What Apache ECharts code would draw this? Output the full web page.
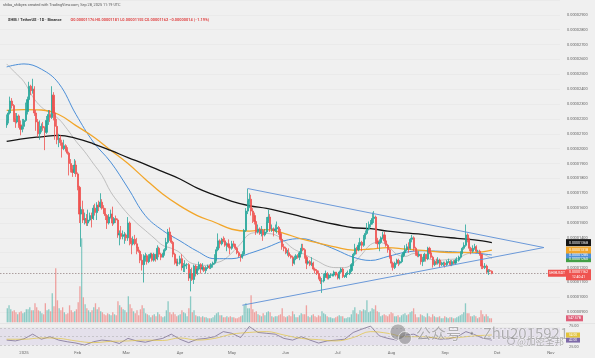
<!DOCTYPE html>
<html><head><meta charset="utf-8">
<script src="https://cdn.jsdelivr.net/npm/echarts@6/dist/echarts.min.js"></script>
<style>html,body{margin:0;padding:0;background:#f0f0f0;}#c{width:595px;height:358px;}</style>
</head><body><div id="c"></div>
<script>
// ---- DATA (prices in millionths of USDT, i.e. 21.9 = 0.00002190) ----
const startDate = '2024-12-22';
const firstOpen = 21.6;
const closes = [
21.9,22.4,23.2,22.9,22.0,21.8,22.2,21.6,21.3,21.5,
21.9,22.5,23.3,24.2,23.9,24.0,22.4,21.8,21.0,21.3,21.5,21.4,21.1,21.9,22.3,22.1,23.6,22.4,21.5,20.6,20.7,20.4,20.0,20.2,19.9,19.7,19.0,18.6,18.4,18.9,18.3,
17.4,15.6,15.9,15.2,15.3,15.0,15.2,15.5,15.3,16.0,15.7,16.2,16.1,16.4,16.0,15.7,15.5,15.0,15.4,15.6,15.0,15.3,15.2,14.2,14.3,14.1,14.2,14.2,
14.0,15.0,13.8,13.6,13.9,13.6,13.3,13.1,12.5,12.2,12.7,12.8,12.4,12.7,12.9,12.5,12.9,12.6,13.3,12.9,12.7,12.9,13.2,13.7,14.4,14.0,13.7,12.9,12.4,12.3,12.3,
12.6,12.0,12.1,12.2,12.2,11.3,11.6,11.2,12.1,11.6,11.9,12.2,11.9,12.0,11.8,12.0,12.1,12.0,12.2,12.3,12.5,13.2,13.8,13.6,13.9,13.8,13.5,13.6,13.4,13.3,
13.6,13.5,13.3,13.0,12.8,12.7,12.9,14.5,15.8,16.5,16.6,15.8,15.5,15.1,14.4,14.6,14.3,14.5,14.2,14.4,15.1,15.4,14.6,14.6,14.5,14.6,14.7,14.3,13.9,13.4,13.3,
13.0,13.0,12.8,12.7,12.3,12.6,12.8,12.7,13.0,13.3,13.2,12.7,12.3,12.4,12.2,12.3,11.9,11.8,11.6,11.3,11.1,11.1,11.4,11.6,11.3,11.5,11.5,11.5,11.7,11.5,
11.3,11.7,11.9,11.4,11.4,11.6,11.6,11.8,12.2,12.9,13.3,13.2,13.5,13.7,13.5,14.1,14.3,14.6,14.9,15.0,15.3,15.4,13.8,13.6,13.7,14.0,14.2,13.8,13.5,13.2,12.7,
12.3,12.0,12.3,12.5,12.3,12.4,12.8,13.0,13.2,13.4,13.3,13.9,14.0,13.3,13.0,12.8,12.9,12.4,12.5,12.9,12.6,13.3,13.0,12.7,12.2,12.4,12.3,12.5,12.2,12.3,12.3,
12.2,12.4,12.4,12.2,12.4,12.3,12.5,12.5,12.7,13.0,13.3,13.5,14.2,13.9,13.3,13.1,13.3,13.4,13.1,13.1,12.9,12.1,12.0,12.1,11.7,11.8,11.76,11.62];
const highs = [
22.3,22.6,23.5,23.4,23.0,22.4,22.4,22.3,21.9,22.0,
22.0,23.1,23.5,24.5,24.3,24.7,24.2,22.6,22.0,21.9,21.7,21.8,21.5,22.2,22.6,22.6,24.2,23.8,22.8,22.0,21.0,20.9,20.6,20.6,20.3,20.1,19.8,19.3,18.9,19.3,19.2,
18.4,17.5,16.1,16.5,15.7,15.6,15.9,15.7,15.7,16.2,16.3,16.4,16.5,17.0,16.6,16.2,16.0,15.6,15.6,15.9,16.1,15.4,15.5,15.3,14.5,14.8,14.5,14.4,
14.3,15.4,15.1,14.0,14.1,14.2,14.0,13.4,13.2,12.9,12.9,13.0,12.9,12.9,13.0,13.0,13.0,12.9,13.5,13.4,13.0,13.0,13.3,14.0,14.6,14.7,14.2,13.8,13.0,12.6,12.6,
12.8,12.9,12.3,12.5,12.3,12.3,11.9,12.0,12.2,12.2,12.1,12.4,12.3,12.3,12.1,12.1,12.2,12.2,12.3,12.4,12.9,13.4,14.3,13.9,14.0,14.1,14.0,13.7,13.9,13.5,
13.8,13.8,13.6,13.4,13.1,12.9,13.1,14.6,16.0,17.3,17.0,16.9,16.0,15.7,15.2,14.9,14.7,14.8,14.6,14.6,15.4,15.9,15.6,14.9,14.7,14.9,15.1,14.8,14.6,14.0,13.6,
13.4,13.2,13.3,12.9,12.8,12.8,12.9,12.9,13.1,13.6,13.6,13.3,12.8,12.5,12.5,12.7,12.4,12.0,11.9,11.8,11.4,11.3,11.6,11.8,11.7,11.6,11.6,11.6,11.8,11.7,
11.6,11.8,12.0,12.0,11.5,11.7,11.8,11.9,12.3,13.0,13.6,13.4,13.7,14.0,13.8,14.2,14.5,15.0,15.1,15.2,15.7,15.8,15.5,14.0,13.9,14.1,14.4,14.4,14.1,13.6,13.3,
12.8,12.4,12.4,12.6,12.6,12.5,12.9,13.1,13.5,13.6,13.7,14.0,14.2,14.1,13.4,13.1,13.1,12.9,12.7,13.0,12.9,13.4,13.4,13.1,12.8,12.5,12.6,12.7,12.6,12.4,12.4,
12.4,12.5,12.6,12.5,12.5,12.5,12.6,12.7,12.8,13.1,13.4,13.7,14.9,14.3,14.0,13.4,13.5,13.6,13.5,13.2,13.2,12.9,12.3,12.3,12.2,11.9,11.9,11.81];
const lows = [
21.4,21.7,22.3,22.7,21.8,21.4,21.7,21.4,20.9,21.1,
21.3,21.8,22.3,23.1,23.6,23.7,22.2,21.2,20.8,20.6,21.1,21.2,19.9,21.0,21.6,21.8,22.0,21.9,20.6,20.3,20.1,20.2,19.4,19.9,19.8,19.6,18.2,18.4,18.1,18.3,18.1,
17.2,15.0,13.4,15.0,14.9,14.8,14.8,15.1,14.7,15.2,15.5,15.2,15.8,16.0,15.9,15.6,15.2,14.6,14.9,15.3,14.8,14.9,15.0,14.0,13.5,13.9,13.9,13.6,
13.8,13.8,13.5,12.9,13.5,13.5,12.9,13.0,12.3,11.8,11.0,12.4,12.2,12.3,12.6,12.4,12.4,12.4,12.5,12.7,12.5,12.7,12.8,13.1,13.6,13.8,13.6,12.7,12.2,12.1,12.1,
12.2,11.8,11.7,11.7,11.9,11.1,10.4,11.1,10.9,11.4,11.5,11.8,11.6,11.8,11.7,11.6,11.9,11.9,11.9,12.0,12.2,12.4,13.1,13.3,13.5,13.7,13.4,13.1,13.3,12.9,
13.2,13.4,13.2,12.9,12.7,12.4,12.6,12.8,14.4,15.6,16.0,15.5,15.0,14.9,14.2,14.3,14.2,14.1,13.8,14.1,14.3,15.0,14.4,14.4,14.1,14.4,14.3,14.2,13.8,13.2,13.1,
12.9,12.8,12.7,12.6,12.1,12.2,12.5,12.6,12.5,12.9,13.1,12.6,11.9,12.2,12.1,12.1,11.8,11.6,11.5,11.2,10.9,10.3,11.0,11.3,11.2,11.2,11.3,11.4,11.4,11.4,
11.2,11.2,11.6,11.3,11.3,11.3,11.5,11.5,11.7,12.1,12.8,12.9,13.1,13.4,13.1,13.4,13.9,14.2,14.5,14.7,14.9,15.0,13.6,13.3,13.1,13.6,13.9,13.6,13.4,13.0,12.6,
12.0,11.8,11.9,12.2,12.1,12.2,12.3,12.7,12.9,13.1,13.0,13.2,13.7,13.1,12.8,12.7,12.7,12.2,12.1,12.4,12.4,12.5,12.9,12.6,12.0,12.1,12.2,12.2,12.0,12.1,12.1,
12.0,12.1,12.3,12.1,12.1,12.2,12.2,12.4,12.4,12.6,12.9,13.2,13.4,13.7,13.1,12.9,13.0,13.2,13.0,13.0,12.8,11.9,11.9,11.9,11.6,11.5,11.7,11.55];
// volume (relative units)
const volumes = [
14,17,13,11,12,10,8,10,11,9,
10,13,13,15,12,12,19,15,12,11,9,8,19,12,13,11,29,16,54,22,14,12,15,10,8,9,17,12,10,11,13,
20,36,84,25,18,14,12,10,12,15,19,13,15,11,10,8,7,9,8,7,10,8,7,21,17,15,13,12,
10,26,18,14,11,9,12,7,13,17,14,9,8,7,5,7,8,6,10,8,6,5,6,12,21,10,8,10,8,6,7,
8,12,10,9,6,14,26,10,12,7,6,6,5,6,5,5,4,4,4,5,7,9,10,7,7,5,5,6,5,6,
5,5,4,4,5,6,7,17,19,14,14,27,13,10,11,8,7,6,9,7,10,11,10,6,5,6,6,7,8,14,6,
5,6,7,6,11,8,5,5,7,9,8,8,17,6,5,7,8,6,5,7,6,11,9,8,6,5,5,4,4,5,
6,7,6,6,4,4,5,5,8,12,15,9,8,12,11,13,12,22,10,11,14,13,17,11,10,6,7,8,7,6,8,
10,9,6,6,7,5,7,8,9,7,8,10,11,14,8,5,5,8,7,6,5,9,6,5,8,6,5,5,6,4,4,
6,5,4,5,5,4,4,5,6,7,8,10,19,9,9,6,6,7,6,4,5,12,8,6,8,6,4,4];
// moving averages, sampled from startDate
const maSlowStep = 10;   // days between samples
const ma50  = [25.5,25.7,25.35,24.4,22.3,20.45,19.1,17.35,15.5,14.5,13.8,13.1,12.6,12.6,12.95,13.35,13.8,13.95,13.65,13.2,12.7,12.48,12.75,13.03,13.13,13.1,13.05,12.98,12.85];
const ma100 = [22.57,22.62,22.6,22.3,21.55,20.8,19.9,19.0,17.95,16.95,16.15,15.5,15.05,14.58,14.45,14.55,14.3,13.93,13.65,13.37,13.18,13.25,13.35,13.25,13.16,13.05,13.01,13.02,13.18];
const ma200 = [20.49,20.68,20.8,20.9,20.7,20.33,19.88,19.4,18.95,18.45,17.96,17.35,16.88,16.46,16.16,15.98,15.72,15.43,15.15,14.9,14.68,14.62,14.45,14.33,14.24,14.08,13.97,13.86,13.68];
const maFastStep = 5;
const ma20  = [25.7,25.1,24.5,23.5,22.8,22.4,22.0,21.3,20.5,19.8,19.0,18.2,17.1,16.3,15.6,15.0,14.5,14.0,13.5,13.3,13.0,12.4,12.2,12.15,12.3,12.5,13.0,13.6,14.25,14.35,14.3,14.2,13.8,13.3,13.0,12.7,12.4,12.1,12.0,12.0,12.3,12.9,13.55,13.7,13.45,12.9,12.75,12.95,12.7,12.55,12.5,12.55,12.6,12.9,13.0,12.9,12.6];
// RSI (5-day samples) and its MA (10-day samples)
const rsi   = [42,40,45,56,44,50,42,38,35,30,38,42,40,34,46,40,37,42,46,56,44,36,44,46,50,62,58,48,74,60,58,56,46,42,50,42,35,40,42,44,60,68,75,52,46,42,54,56,46,48,44,45,50,62,55,46,42];
const rsiMa = [44,44,47,46,40,36,39,40,42,41,47,42,46,56,60,62,54,46,43,40,48,62,58,50,50,47,48,52,54];
// triangle trendlines
const trendUpper = [['2025-05-10', 17.32], ['2025-10-28', 13.35]];
const trendLower = [['2025-05-07', 9.47], ['2025-10-28', 13.35]];
// x-axis tick labels
const monthTicks  = ['2025-01-01','2025-02-01','2025-03-01','2025-04-01','2025-05-01','2025-06-01','2025-07-01','2025-08-01','2025-09-01','2025-10-01','2025-11-01'];
const monthLabels = ['2025','Feb','Mar','Apr','May','Jun','Jul','Aug','Sep','Oct','Nov'];
const rsiTickLabels = [25, 75];

// ---- BUILD ----
const DAY = 86400000;
const P = s => Date.parse(s + 'T00:00:00Z');
const t0 = P(startDate);
const dates = closes.map((_, i) => t0 + i * DAY);
const opens = closes.map((c, i) => i === 0 ? firstOpen : closes[i - 1]);
const UP = '#26a69a', DN = '#ef5350';
const candleData = closes.map((c, i) => [dates[i], opens[i], c, lows[i], highs[i]]);
const volData = volumes.map((v, i) => ({value: [dates[i], v], itemStyle: {color: closes[i] >= opens[i] ? 'rgba(38,166,154,0.5)' : 'rgba(239,83,80,0.5)'}}));
const pts = (arr, step) => arr.map((v, i) => [t0 + i * step * DAY, v]);
const fmt = v => (v / 1e6).toFixed(8);
const tickMap = {}; monthTicks.forEach((m, i) => tickMap[P(m)] = monthLabels[i]);

const jan1 = Date.UTC(2025, 0, 1);
const xMin = jan1 - 13.85 * DAY, xMax = jan1 + 309.3 * DAY;
const FONT = 'Roboto, "Liberation Sans", sans-serif';
function xAx(i, labels) {
  return {type: labels ? 'value' : 'time', gridIndex: i, min: xMin, max: xMax, scale: true,
    axisLine: {show: false}, axisTick: {show: false}, splitLine: {show: false},
    axisLabel: labels ? {customValues: monthTicks.map(P), formatter: v => tickMap[v] || '',
      fontSize: 4.2, color: '#666', margin: 1.5, fontFamily: FONT} : {show: false}};
}
const lastI = closes.length - 1;
const lastC = closes[lastI], lastO = opens[lastI];
const chg = lastC - lastO;
const sign = chg < 0 ? '\u2212' : '+';
const hdr2 = 'O' + fmt(lastO) + ' H' + fmt(highs[lastI]) + ' L' + fmt(lows[lastI]) + ' C' + fmt(lastC) + ' ' +
  sign + fmt(Math.abs(chg)) + ' (' + sign + (Math.abs(chg) / lastO * 100).toFixed(2) + '%)';

const chart = echarts.init(document.getElementById('c'), null, {width: 595, height: 358});
chart.setOption({
  animation: false,
  useUTC: true,
  backgroundColor: '#f0f0f0',
  textStyle: {fontFamily: FONT},
  title: [
    {text: 'shiba_shibyes created with TradingView.com, Sep 28, 2025 11:19 UTC', left: 3, top: 3.5, padding: 0,
     textStyle: {fontSize: 3.8, color: '#555', fontWeight: 'normal', fontFamily: FONT}},
    {text: '{a|SHIB / TetherUS \u00b7 1D \u00b7 Binance}  {b|' + hdr2 + '}', left: 8, top: 11.5, padding: 0,
     textStyle: {rich: {a: {fontSize: 3.9, color: '#333', fontFamily: FONT}, b: {fontSize: 3.9, color: '#e04848', fontFamily: FONT}}}}
  ],
  grid: [
    {left: 0, width: 560, top: -2.27, height: 329.34},
    {left: 0, width: 560, top: 200, height: 122.3},
    {left: 0, width: 560, top: 324, height: 25.4}
  ],
  xAxis: [xAx(0, false), xAx(1, false), xAx(2, true)],
  yAxis: [
    {type: 'value', gridIndex: 0, position: 'right', min: 8, max: 30, interval: 1,
     axisLine: {show: false}, axisTick: {show: false},
     axisLabel: {showMinLabel: false, showMaxLabel: false, formatter: fmt, fontSize: 3.9, color: '#666', margin: 7, fontFamily: FONT},
     splitLine: {lineStyle: {color: 'rgba(0,0,0,0.045)', width: 0.6}}},
    {type: 'value', gridIndex: 1, min: 0, max: 122.3, show: false},
    {type: 'value', gridIndex: 2, position: 'right', min: 20, max: 80, interval: 5,
     axisLine: {show: false}, axisTick: {show: false}, splitLine: {show: false},
     axisLabel: {formatter: v => rsiTickLabels.includes(v) ? v.toFixed(2) : '', fontSize: 3.8, color: '#666', margin: 9, fontFamily: FONT}}
  ],
  series: [
    {type: 'bar', xAxisIndex: 1, yAxisIndex: 1, data: volData, barWidth: 1.3, z: 1},
    {type: 'candlestick', xAxisIndex: 0, yAxisIndex: 0, data: candleData, barWidth: 1.6, z: 5,
     encode: {x: 0, y: [1, 2, 3, 4]},
     itemStyle: {color: UP, color0: DN, borderColor: UP, borderColor0: DN, borderWidth: 0.8},
     markLine: {silent: true, symbol: 'none', label: {show: false},
       lineStyle: {color: '#9a8a8a', type: [1.5, 1.5], width: 0.8}, data: [{yAxis: lastC}]}},
    {type: 'line', name: 'ma20', data: pts(ma20, maFastStep), showSymbol: false, smooth: 0.4, z: 3,
     lineStyle: {color: '#a9a9a9', width: 0.7}},
    {type: 'line', name: 'ma50', data: pts(ma50, maSlowStep), showSymbol: false, smooth: 0.4, z: 3,
     lineStyle: {color: '#4c8fd8', width: 1}},
    {type: 'line', name: 'ma100', data: pts(ma100, maSlowStep), showSymbol: false, smooth: 0.4, z: 3,
     lineStyle: {color: '#f2a62a', width: 1.3}},
    {type: 'line', name: 'ma200', data: pts(ma200, maSlowStep), showSymbol: false, smooth: 0.4, z: 3,
     lineStyle: {color: '#151515', width: 1.3}},
    {type: 'line', data: trendUpper.map(d => [P(d[0]), d[1]]), showSymbol: false, z: 6,
     lineStyle: {color: '#5b8fd6', width: 0.9}},
    {type: 'line', data: trendLower.map(d => [P(d[0]), d[1]]), showSymbol: false, z: 6,
     lineStyle: {color: '#5b8fd6', width: 0.9}},
    {type: 'line', xAxisIndex: 2, yAxisIndex: 2, data: pts(rsi, maFastStep), showSymbol: false, z: 4,
     lineStyle: {color: '#6e6288', width: 0.7},
     markArea: {silent: true, itemStyle: {color: 'rgba(126,87,194,0.1)'}, data: [[{yAxis: 30}, {yAxis: 70}]]},
     markLine: {silent: true, symbol: 'none', label: {show: false},
       lineStyle: {color: '#aaa', type: [2, 2], width: 0.5}, data: [{yAxis: 70}, {yAxis: 50}, {yAxis: 30}]}},
    {type: 'line', xAxisIndex: 2, yAxisIndex: 2, data: pts(rsiMa, maSlowStep), showSymbol: false, smooth: 0.4, z: 4,
     lineStyle: {color: '#e3c43c', width: 0.7}}
  ]
});

// price-scale labels placed through the library's own scales
const yOf = (v, idx) => chart.convertToPixel({yAxisIndex: idx}, v);
const g = [];
function box(val, idx, color, text, h) {
  const y = yOf(val, idx);
  g.push({type: 'rect', shape: {x: 566, y: y - (h || 7) / 2, width: 25, height: h || 7}, style: {fill: color}, z: 100});
  g.push({type: 'text', style: {text: text, x: 578.5, y: y, fill: '#fff', fontSize: 3.6, fontFamily: FONT, align: 'center', verticalAlign: 'middle'}, z: 101});
}
box(ma20[ma20.length - 1], 0, '#43a047', fmt(ma20[ma20.length - 1]));
box(ma50[ma50.length - 1], 0, '#4c8fd8', fmt(ma50[ma50.length - 1]));
box(ma100[ma100.length - 1], 0, '#f2a62a', fmt(ma100[ma100.length - 1]));
box(ma200[ma200.length - 1], 0, '#151515', fmt(ma200[ma200.length - 1]));
const py = yOf(lastC, 0);
g.push({type: 'rect', shape: {x: 548, y: py - 3.5, width: 18, height: 7}, style: {fill: '#ef5350'}, z: 100});
g.push({type: 'text', style: {text: 'SHIBUSDT', x: 557, y: py, fill: '#fff', fontSize: 3.4, fontFamily: FONT, align: 'center', verticalAlign: 'middle'}, z: 101});
g.push({type: 'rect', shape: {x: 566, y: py - 4, width: 25, height: 11}, style: {fill: '#ef5350'}, z: 100});
g.push({type: 'text', style: {text: fmt(lastC), x: 578.5, y: py - 0.8, fill: '#fff', fontSize: 3.6, fontFamily: FONT, align: 'center', verticalAlign: 'middle'}, z: 101});
g.push({type: 'text', style: {text: '12:40:41', x: 578.5, y: py + 3.8, fill: '#fff', fontSize: 3.4, fontFamily: FONT, align: 'center', verticalAlign: 'middle'}, z: 101});
const vy = yOf(volumes[lastI], 1);
g.push({type: 'rect', shape: {x: 566, y: vy - 3, width: 17, height: 6}, style: {fill: '#e0607a'}, z: 100});
g.push({type: 'text', style: {text: '547.57B', x: 574.5, y: vy, fill: '#fff', fontSize: 3.4, fontFamily: FONT, align: 'center', verticalAlign: 'middle'}, z: 101});
const ry = yOf(rsiMa[rsiMa.length - 1], 2), ry2 = yOf(rsi[rsi.length - 1], 2);
g.push({type: 'rect', shape: {x: 566, y: ry2 - 2.5, width: 14, height: 5}, style: {fill: '#7e6aa8'}, z: 100});
g.push({type: 'text', style: {text: rsi[rsi.length - 1].toFixed(2), x: 573, y: ry2, fill: '#fff', fontSize: 3.2, fontFamily: FONT, align: 'center', verticalAlign: 'middle'}, z: 101});
g.push({type: 'rect', shape: {x: 566, y: ry - 2.5, width: 14, height: 5}, style: {fill: '#e3c43c'}, z: 100});
g.push({type: 'text', style: {text: rsiMa[rsiMa.length - 1].toFixed(2), x: 573, y: ry, fill: '#fff', fontSize: 3.2, fontFamily: FONT, align: 'center', verticalAlign: 'middle'}, z: 101});
// pane separator
g.push({type: 'line', shape: {x1: 0, y1: 323.5, x2: 595, y2: 323.5}, style: {stroke: 'rgba(0,0,0,0.08)', lineWidth: 0.6}, z: 50});
// watermark
g.push({type: 'circle', shape: {cx: 398, cy: 332, r: 8}, style: {fill: 'rgba(120,120,120,0.5)', stroke: 'rgba(255,255,255,0.8)', lineWidth: 0.8}, z: 90});
g.push({type: 'circle', shape: {cx: 405, cy: 338, r: 6.5}, style: {fill: 'rgba(120,120,120,0.5)', stroke: 'rgba(255,255,255,0.8)', lineWidth: 0.8}, z: 90});
g.push({type: 'text', style: {text: '公众号 · Zhu2015921', x: 416, y: 333, fill: 'rgba(120,120,120,0.55)', stroke: 'rgba(255,255,255,0.6)', lineWidth: 0.8,
  fontSize: 15, fontFamily: '"Noto Sans CJK SC", sans-serif', align: 'left', verticalAlign: 'middle'}, z: 90});
g.push({type: 'circle', shape: {cx: 511, cy: 341, r: 3.5}, style: {fill: 'none', stroke: 'rgba(120,120,120,0.6)', lineWidth: 0.8}, z: 90});
g.push({type: 'text', style: {text: '@加密圣邦', x: 517, y: 341, fill: 'rgba(120,120,120,0.6)', stroke: 'rgba(255,255,255,0.6)', lineWidth: 0.6,
  fontSize: 9.5, fontFamily: '"Noto Sans CJK SC", sans-serif', align: 'left', verticalAlign: 'middle'}, z: 90});
chart.setOption({graphic: g});
</script>
</body></html>
